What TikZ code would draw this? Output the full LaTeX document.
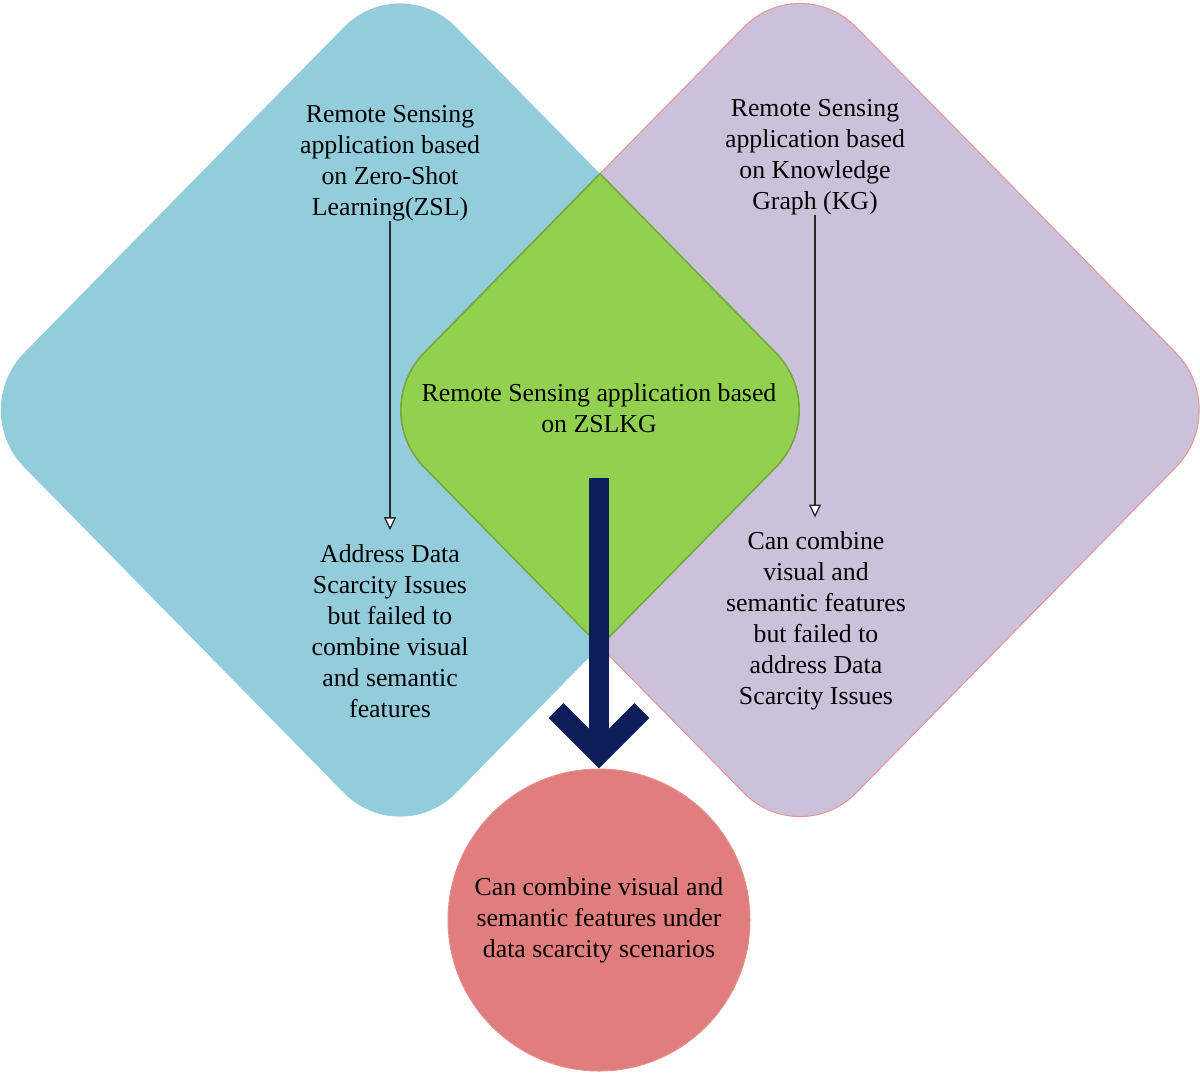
\documentclass[tikz,border=0pt]{standalone}
\usepackage{fontspec}
\setmainfont{Liberation Serif}
\usetikzlibrary{arrows.meta,calc}
\definecolor{zslblue}{RGB}{147,205,220}
\definecolor{kgpurple}{RGB}{204,193,218}
\definecolor{kgborder}{RGB}{226,150,150}
\definecolor{zslkggreen}{RGB}{146,208,80}
\definecolor{greenborder}{RGB}{118,168,58}
\definecolor{resred}{RGB}{224,126,125}
\definecolor{bignavy}{RGB}{12,30,90}
\definecolor{thinline}{RGB}{40,40,40}
\tikzset{
  txt/.style={font=\fontsize{25.8}{31}\selectfont, align=center, inner sep=0pt, text=black},
  thinarr/.style={draw=thinline, line width=1.3pt, -{Triangle[width=12pt,length=13pt,fill=white]}},
  navyline/.style={draw=bignavy, line width=20pt},
  navyhead/.style={draw=bignavy, line width=21pt, line join=miter, miter limit=4},
  diam/.style={rounded corners=80pt}
}
\begin{document}
\begin{tikzpicture}[x=1pt,y=-1pt]
\useasboundingbox (0,0) rectangle (1200,1072);
% blue diamond (ZSL)
\path[fill=zslblue, diam]
  (184,190) -- (400,-30) -- (832,410) -- (400,850) -- (-32,410) -- cycle;
% purple diamond (KG)
\path[fill=kgpurple, draw=kgborder, line width=1pt, diam]
  (584,190) -- (800,-30) -- (1232,410) -- (800,850) -- (368,410) -- cycle;
% green overlap (ZSLKG)
\begin{scope}
  \clip[diam] (184,190) -- (400,-30) -- (832,410) -- (400,850) -- (-32,410) -- cycle;
  \path[fill=zslkggreen, draw=greenborder, line width=1.6pt, diam]
    (584,190) -- (800,-30) -- (1232,410) -- (800,850) -- (368,410) -- cycle;
\end{scope}
\begin{scope}
  \clip[diam] (584,190) -- (800,-30) -- (1232,410) -- (800,850) -- (368,410) -- cycle;
  \path[draw=greenborder, line width=1.6pt, diam]
    (184,190) -- (400,-30) -- (832,410) -- (400,850) -- (-32,410) -- cycle;
\end{scope}
% texts
\node[txt] (zslT) at (390,163) {Remote Sensing\\application based\\on Zero-Shot\\Learning(ZSL)};
\node[txt] (kgT) at (815,157) {Remote Sensing\\application based\\on Knowledge\\Graph (KG)};
\node[txt] (gT) at (599,408) {Remote Sensing application based\\on ZSLKG};
\node[txt] (zslB) at (390,631) {Address Data\\Scarcity Issues\\but failed to\\combine visual\\and semantic\\features};
\node[txt] (kgB) at (816,621) {Can combine\\visual and\\semantic features\\but failed to\\address Data\\Scarcity Issues};
% thin arrows
\draw[thinarr, shorten >=14pt] (zslT.south) -- (zslT.south |- zslB.north);
\draw[thinarr, shorten >=14pt] (kgT.south) -- (kgT.south |- kgB.north);
% result circle
\node[circle, fill=resred, draw=resred!85!white, line width=1pt, minimum size=302pt, txt] (res) at (599,920)
  {Can combine visual and\\semantic features under\\data scarcity scenarios};
% big navy arrow
\coordinate (navyS) at (599,478);
\coordinate (tip) at ([yshift=15pt]res.north);
\draw[navyline] (navyS) -- (tip);
\draw[navyhead] ([shift={(-43pt,43pt)}]tip) -- (tip) -- ([shift={(43pt,43pt)}]tip);
\end{tikzpicture}
\end{document}
